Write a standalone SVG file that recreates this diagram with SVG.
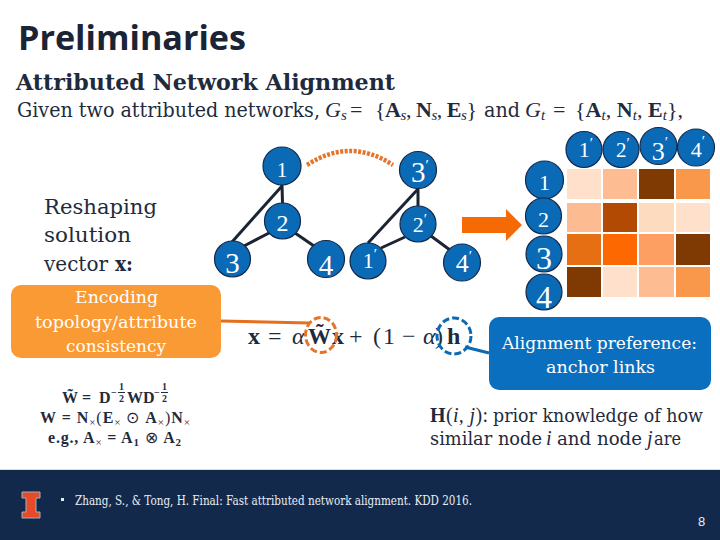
<svg xmlns="http://www.w3.org/2000/svg" width="720" height="540" viewBox="0 0 720 540">
<style>
.s{font-family:"DejaVu Serif","Liberation Serif",serif;fill:#1f2b3d}
.m{font-family:"Liberation Serif",serif;fill:#1f2b3d}
.b{font-weight:bold}
.i{font-style:italic}
.n circle{fill:#0b6ab5;stroke:#13294b;stroke-width:1.2}
.n text{font-family:"Liberation Serif",serif;fill:#fff;text-anchor:middle}
.n tspan{font-size:15px}
.e line{stroke:#1b2433;stroke-width:3}
.w{font-family:"DejaVu Serif","Liberation Serif",serif;fill:#fff;font-size:17px}
.f{font-family:"Liberation Serif",serif;font-weight:bold;fill:#1f2b3d;font-size:16px}
.r{font-family:"Liberation Serif",serif;font-weight:bold;fill:#1f2b3d;font-size:10px}
</style>
<rect width="720" height="540" fill="#fff"/>
<rect y="469" width="720" height="2" fill="#d5dde5"/>
<rect y="470" width="720" height="70" fill="#13294b"/>
<text x="18" y="50" font-family="Open Sans,sans-serif" font-weight="700" font-size="34" fill="#1a2435" textLength="228" lengthAdjust="spacingAndGlyphs">Preliminaries</text>
<text x="16" y="90" class="s b" font-size="22" textLength="379" lengthAdjust="spacingAndGlyphs">Attributed Network Alignment</text>
<text x="17" y="117" class="s" font-size="19.5" textLength="303" lengthAdjust="spacingAndGlyphs">Given two attributed networks,</text>
<text x="325" y="117" class="m i" font-size="22">G<tspan font-size="15" dy="3">s</tspan></text>
<text x="350" y="117" class="m" font-size="22">=</text>
<text x="375" y="117" class="m" font-size="22" textLength="102">{<tspan class="b">A</tspan><tspan class="i" font-size="15" dy="3">s</tspan><tspan dy="-3">, </tspan><tspan class="b">N</tspan><tspan class="i" font-size="15" dy="3">s</tspan><tspan dy="-3">, </tspan><tspan class="b">E</tspan><tspan class="i" font-size="15" dy="3">s</tspan><tspan dy="-3">}</tspan></text>
<text x="484" y="117" class="s" font-size="19.5" textLength="36" lengthAdjust="spacingAndGlyphs">and</text>
<text x="525" y="117" class="m i" font-size="22">G<tspan font-size="15" dy="3">t</tspan></text>
<text x="553" y="117" class="m" font-size="22">=</text>
<text x="575" y="117" class="m" font-size="22" textLength="108">{<tspan class="b">A</tspan><tspan class="i" font-size="15" dy="3">t</tspan><tspan dy="-3">, </tspan><tspan class="b">N</tspan><tspan class="i" font-size="15" dy="3">t</tspan><tspan dy="-3">, </tspan><tspan class="b">E</tspan><tspan class="i" font-size="15" dy="3">t</tspan><tspan dy="-3">},</tspan></text>
<text x="44" y="214" class="s" font-size="21" textLength="113" lengthAdjust="spacingAndGlyphs">Reshaping</text>
<text x="44" y="242" class="s" font-size="21" textLength="87" lengthAdjust="spacingAndGlyphs">solution</text>
<text x="44" y="271" class="s" font-size="21" textLength="64" lengthAdjust="spacingAndGlyphs">vector</text>
<text x="115" y="271" class="s b" font-size="21" textLength="18" lengthAdjust="spacingAndGlyphs">x:</text>

<g id="connectors" fill="none">
<g class="e"><line x1="282" y1="185" x2="282.500" y2="203"/><line x1="282" y1="186" x2="232" y2="242"/><line x1="269" y1="233" x2="244" y2="246"/><line x1="295" y1="233" x2="314" y2="246"/>
<line x1="418" y1="188" x2="418" y2="206"/><line x1="418" y1="189" x2="368" y2="243"/><line x1="405" y1="237" x2="381" y2="248"/><line x1="431" y1="236" x2="450" y2="250"/></g>
<path d="M307 165Q350 137 393 165" stroke="#e5752a" stroke-width="4.5" stroke-dasharray="3 1.5"/>
<path d="M221 321L310 323" stroke="#e56f1f" stroke-width="3"/>
<path d="M465 347L489 353" stroke="#0b6ab5" stroke-width="3"/>
<path d="M462 217H506V209L522 225L506 241V233H462Z" fill="#f66a05"/>
</g>

<g id="matrix">
<rect x="567" y="169" width="34" height="30" fill="#fee0cb"/><rect x="603" y="169" width="34" height="30" fill="#fdbc92"/><rect x="639" y="169" width="35" height="30" fill="#7f3a03"/><rect x="676" y="169" width="34" height="30" fill="#f9974a"/>
<rect x="567" y="203" width="34" height="29" fill="#fdbb91"/><rect x="603" y="203" width="34" height="29" fill="#b34a03"/><rect x="639" y="203" width="35" height="29" fill="#fddbbe"/><rect x="676" y="203" width="34" height="29" fill="#fee0cb"/>
<rect x="567" y="234" width="34" height="31" fill="#e56f12"/><rect x="603" y="234" width="34" height="31" fill="#fd6800"/><rect x="639" y="234" width="35" height="31" fill="#fd9e62"/><rect x="676" y="234" width="34" height="31" fill="#7f3a03"/>
<rect x="567" y="267" width="34" height="30" fill="#7f3a03"/><rect x="603" y="267" width="34" height="30" fill="#fee0cb"/><rect x="639" y="267" width="35" height="30" fill="#fdbc92"/><rect x="676" y="267" width="34" height="30" fill="#f9974a"/>
</g>

<g id="g1-1" class="n"><circle cx="282" cy="166" r="19"/><text x="282" y="177" font-size="21">1</text></g>
<g id="g1-2" class="n"><circle cx="282.500" cy="221" r="18"/><text x="282.500" y="231" font-size="24">2</text></g>
<g id="g1-3" class="n"><circle cx="232.500" cy="259" r="18"/><text x="232.500" y="273" font-size="29">3</text></g>
<g id="g1-4" class="n"><circle cx="326" cy="259" r="18.500"/><text x="326" y="275" font-size="29">4</text></g>
<g id="g2-3" class="n"><circle cx="418" cy="170" r="18.500"/><text x="420" y="182" font-size="29">3<tspan dy="-12">′</tspan></text></g>
<g id="g2-2" class="n"><circle cx="418" cy="224" r="18"/><text x="420" y="232" font-size="22">2<tspan dy="-8">′</tspan></text></g>
<g id="g2-1" class="n"><circle cx="368" cy="261" r="18"/><text x="370" y="268" font-size="22">1<tspan dy="-9">′</tspan></text></g>
<g id="g2-4" class="n"><circle cx="462" cy="262.500" r="18.500"/><text x="464" y="272" font-size="26">4<tspan dy="-11">′</tspan></text></g>
<g id="h1" class="n"><circle cx="584" cy="149.500" r="18"/><text x="586" y="157" font-size="22">1<tspan dy="-9">′</tspan></text></g>
<g id="h2" class="n"><circle cx="621" cy="149.500" r="18"/><text x="623" y="157" font-size="21">2<tspan dy="-9">′</tspan></text></g>
<g id="h3" class="n"><circle cx="658.500" cy="146" r="18.500"/><text x="660" y="160" font-size="26">3<tspan dy="-13">′</tspan></text></g>
<g id="h4" class="n"><circle cx="696" cy="147.500" r="18.500"/><text x="698" y="157" font-size="22">4<tspan dy="-11">′</tspan></text></g>
<g id="r1" class="n"><circle cx="544.500" cy="180" r="19"/><text x="544.500" y="190" font-size="22">1</text></g>
<g id="r2" class="n"><circle cx="543.500" cy="216" r="18"/><text x="543.500" y="227" font-size="22">2</text></g>
<g id="r3" class="n"><circle cx="544" cy="254" r="18"/><text x="544" y="269" font-size="32">3</text></g>
<g id="r4" class="n"><circle cx="544" cy="292" r="18"/><text x="544" y="308" font-size="32">4</text></g>

<g id="encoding"><rect x="11" y="285" width="210" height="73" rx="10" fill="#f99a34"/>
<text x="75" y="303" class="w" textLength="83" lengthAdjust="spacingAndGlyphs">Encoding</text>
<text x="35" y="328" class="w" textLength="162" lengthAdjust="spacingAndGlyphs">topology/attribute</text>
<text x="66" y="352" class="w" textLength="100" lengthAdjust="spacingAndGlyphs">consistency</text></g>
<g id="alignment"><rect x="489" y="317" width="222" height="73" rx="10" fill="#0b6fc0"/>
<text x="502" y="349" class="w" textLength="195" lengthAdjust="spacingAndGlyphs">Alignment preference:</text>
<text x="546" y="373" class="w" textLength="109" lengthAdjust="spacingAndGlyphs">anchor links</text></g>

<g id="equation" font-size="24">
<text x="248" y="344" class="m b">x</text><text x="268" y="344" class="m">=</text><text x="292" y="344" class="m i">α</text>
<text x="308" y="344" class="m b" font-size="24" textLength="23" lengthAdjust="spacingAndGlyphs">W̃</text>
<text x="332" y="344" class="m b">x</text><text x="349" y="344" class="m">+</text><text x="373" y="344" class="m">(</text><text x="383" y="344" class="m">1</text><text x="402" y="344" class="m">−</text><text x="423" y="344" class="m i">α</text><text x="435" y="344" class="m">)</text><text x="447" y="344" class="m b">h</text>
<ellipse cx="321" cy="335" rx="15.500" ry="17.500" fill="none" stroke="#e5752a" stroke-width="3" stroke-dasharray="7 3"/>
<ellipse cx="454" cy="336" rx="17" ry="18" fill="none" stroke="#0b6ab5" stroke-width="3" stroke-dasharray="7 3"/>
</g>

<g id="formulas">
<text x="62" y="403" class="f">W̃</text><text x="82" y="403" class="f">=</text><text x="99" y="403" class="f">D</text><text x="111" y="396" class="r">−</text>
<text x="119" y="390" class="r">1</text><rect x="118" y="392" width="7" height="1" fill="#1f2b3d"/><text x="119" y="402" class="r">2</text>
<text x="127" y="403" class="f">WD</text><text x="154" y="396" class="r">−</text>
<text x="162" y="390" class="r">1</text><rect x="161" y="392" width="7" height="1" fill="#1f2b3d"/><text x="162" y="402" class="r">2</text>
<text x="40" y="423" class="f" textLength="150">W = N<tspan font-size="11" dy="3" font-weight="normal">×</tspan><tspan dy="-3" font-weight="normal">(</tspan>E<tspan font-size="11" dy="3" font-weight="normal">×</tspan><tspan dy="-3" font-weight="normal"> ⊙ </tspan>A<tspan font-size="11" dy="3" font-weight="normal">×</tspan><tspan dy="-3" font-weight="normal">)</tspan>N<tspan font-size="11" dy="3" font-weight="normal">×</tspan></text>
<text x="48" y="443" class="f" textLength="133">e.g., A<tspan font-size="11" dy="3" font-weight="normal">×</tspan><tspan dy="-3"> = A</tspan><tspan font-size="11" dy="3">1</tspan><tspan dy="-3" font-weight="normal"> ⊗ </tspan>A<tspan font-size="11" dy="3">2</tspan></text>
</g>

<g id="note">
<text x="430" y="422" class="m" font-size="20" textLength="58"><tspan class="b">H</tspan>(<tspan class="i">i, j</tspan>):</text>
<text x="493" y="422" class="s" font-size="18" textLength="210" lengthAdjust="spacingAndGlyphs">prior knowledge of how</text>
<text x="430" y="445" class="s" font-size="18" textLength="112" lengthAdjust="spacingAndGlyphs">similar node</text>
<text x="546" y="445" class="m i" font-size="20">i</text>
<text x="557" y="445" class="s" font-size="18" textLength="85" lengthAdjust="spacingAndGlyphs">and node</text>
<text x="647" y="445" class="m i" font-size="20">j</text>
<text x="654" y="445" class="s" font-size="18" textLength="27" lengthAdjust="spacingAndGlyphs">are</text>
</g>

<g id="logo"><path d="M22 492H40V498H36V512H40V518H22V512H26V498H22Z" fill="#e84a27" stroke="#9fb0c0" stroke-width="1"/></g>
<rect x="61" y="498" width="3" height="3" fill="#e8edf2"/>
<text x="75" y="505" font-family="DejaVu Serif,serif" font-size="13" fill="#e8edf2" textLength="397" lengthAdjust="spacingAndGlyphs">Zhang, S., &amp; Tong, H. Final: Fast attributed network alignment. KDD 2016.</text>
<text x="698" y="526" font-family="Liberation Sans,sans-serif" font-size="13" fill="#e8edf2">8</text>
</svg>
